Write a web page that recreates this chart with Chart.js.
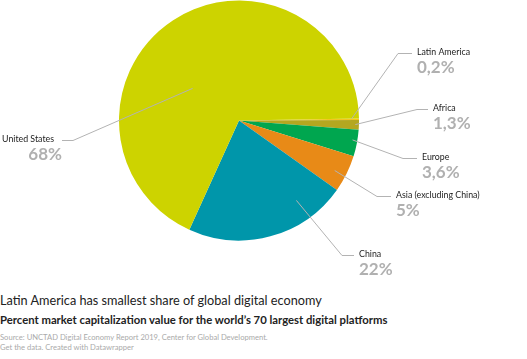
<!DOCTYPE html>
<html>
<head>
<meta charset="utf-8">
<script src="https://cdn.jsdelivr.net/npm/chart.js@4"></script>
<style>
  body { margin: 0; background: #fff; width: 527px; height: 359px; position: relative; overflow: hidden; font-family: Lato, "Noto Sans", sans-serif; }
  #pie { position: absolute; left: 0; top: 0; }
  .txt { position: absolute; left: 0; white-space: nowrap; line-height: 1; }
  .title { top: 294px; font-size: 12.7px; color: #222; }
  .sub { top: 314px; font-size: 11.3px; color: #222; font-weight: bold; }
  .src { font-size: 7.6px; color: #aaa; }
</style>
</head>
<body>
<canvas id="pie" width="527" height="285"></canvas>
<div class="txt title">Latin America has smallest share of global digital economy</div>
<div class="txt sub">Percent market capitalization value for the world’s 70 largest digital platforms</div>
<div class="txt src" style="top:334px">Source: UNCTAD Digital Economy Report 2019, Center for Global Development.</div>
<div class="txt src" style="top:344px">Get the data. Created with Datawrapper</div>
<script>
// Données du graphique
const categories = ["Latin America", "Africa", "Europe", "Asia (excluding China)", "China", "United States"];
const shares = [0.2, 1.3, 3.6, 5, 22, 68];
const shareLabels = ["0,2%", "1,3%", "3,6%", "5%", "22%", "68%"];
const colors = ["#f5c61e", "#b4a720", "#00a64f", "#e88a17", "#0096aa", "#cdd300"];

// Position des étiquettes (mise en page)
const labelX = [417, 433, 422, 396, 359, 54];
const labelY = [55, 111, 160, 198, 257, 142];
const elbowX = [398, 417, 403, 377, 342, 73];
const anchorT = [0, 0.49, 0.41, 0.57, 0.24, 0.41];
const anchorR = [0.94, 0.97, 0.96, 0.9, 0.82, 0.47];

// Plugin pour dessiner les étiquettes et les lignes
const pieLabels = {
  id: "pieLabels",
  afterDraw(chart) {
    const ctx = chart.ctx;
    const arcs = chart.getDatasetMeta(0).data;
    ctx.save();
    arcs.forEach((arc, i) => {
      const a = arc.startAngle + (arc.endAngle - arc.startAngle) * anchorT[i];
      const r = arc.outerRadius * anchorR[i];
      const x0 = arc.x + Math.cos(a) * r;
      const y0 = arc.y + Math.sin(a) * r;
      const left = i === categories.length - 1;
      const ly = labelY[i] - 1.5;
      const endX = left ? labelX[i] + 8 : labelX[i] - 5;
      ctx.strokeStyle = "#b3b3b3";
      ctx.lineWidth = 1;
      ctx.beginPath();
      ctx.moveTo(x0, y0);
      ctx.lineTo(elbowX[i], ly);
      ctx.lineTo(endX, ly);
      ctx.stroke();

      ctx.textAlign = left ? "right" : "left";
      ctx.textBaseline = "alphabetic";
      ctx.fillStyle = "#222";
      ctx.font = "8.8px Lato, sans-serif";
      ctx.fillText(categories[i], labelX[i], labelY[i]);
      ctx.fillStyle = "#b0b0b0";
      ctx.font = "bold 17px Lato, sans-serif";
      const px = left ? labelX[i] + 8 : labelX[i];
      ctx.fillText(shareLabels[i], px, labelY[i] + 18);
    });
    ctx.restore();
  }
};

const ctx = document.getElementById("pie");
new Chart(ctx, {
  type: "pie",
  data: {
    labels: categories,
    datasets: [{
      data: shares,
      backgroundColor: colors,
      borderWidth: 0,
      hoverOffset: 0,
      offset: 0
    }]
  },
  options: {
    responsive: false,
    animation: false,
    rotation: 89,
    layout: { padding: { left: 119, right: 168, top: 0, bottom: 44 } },
    plugins: {
      legend: { display: false },
      tooltip: { enabled: false }
    }
  },
  plugins: [pieLabels]
});
</script>
</body>
</html>
